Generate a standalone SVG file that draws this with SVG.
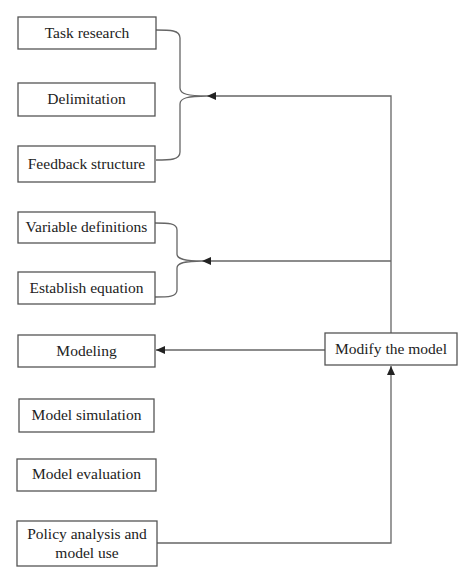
<svg xmlns="http://www.w3.org/2000/svg" width="474" height="583" viewBox="0 0 474 583">
<style>
.box{fill:#fff;stroke:#555;stroke-width:1.3}
.t{font-family:"Liberation Serif",serif;font-size:15.5px;fill:#222;text-anchor:middle}
.ln{fill:none;stroke:#666;stroke-width:1.3}
</style>
<defs>
<marker id="ah" markerWidth="10" markerHeight="8" refX="9" refY="4" orient="auto" markerUnits="userSpaceOnUse">
<path d="M0,0 L9,4 L0,8 Z" fill="#222"/>
</marker>
</defs>
<rect width="474" height="583" fill="#fff"/>
<g id="connectors">
<path class="ln" d="M156,30 C170,30 180,30 180,38 L180,88 C180,94 188,96 207,96 M156,160 C170,160 180,160 180,152 L180,104 C180,98 188,96 207,96"/>
<path class="ln" d="M155,223 C168,223 177,223 177,230 L177,254 C177,259 184,261 202,261 M155,297 C168,297 177,297 177,290 L177,268 C177,263 184,261 202,261"/>
<path class="ln" d="M391,333 L391,96 L207,96" marker-end="url(#ah)"/>
<path class="ln" d="M391,261 L202,261" marker-end="url(#ah)"/>
<path class="ln" d="M325,350 L156,350" marker-end="url(#ah)"/>
<path class="ln" d="M157,543 L391,543 L391,366" marker-end="url(#ah)"/>
</g>
<g id="task-research"><rect class="box" x="18" y="17" width="138" height="32"/><text class="t" x="87" y="38">Task research</text></g>
<g id="delimitation"><rect class="box" x="18" y="83" width="137" height="33"/><text class="t" x="86.5" y="104">Delimitation</text></g>
<g id="feedback-structure"><rect class="box" x="18" y="146" width="137" height="36"/><text class="t" x="86.5" y="169">Feedback structure</text></g>
<g id="variable-definitions"><rect class="box" x="18" y="212" width="137" height="31"/><text class="t" x="86.5" y="232">Variable definitions</text></g>
<g id="establish-equation"><rect class="box" x="18" y="272" width="137" height="32"/><text class="t" x="86.5" y="293">Establish equation</text></g>
<g id="modeling"><rect class="box" x="18" y="335" width="137" height="32"/><text class="t" x="86.5" y="356">Modeling</text></g>
<g id="model-simulation"><rect class="box" x="19" y="399" width="135" height="33"/><text class="t" x="86.5" y="420">Model simulation</text></g>
<g id="model-evaluation"><rect class="box" x="17" y="459" width="139" height="32"/><text class="t" x="86.5" y="479">Model evaluation</text></g>
<g id="policy-analysis"><rect class="box" x="17" y="521" width="140" height="45"/><text class="t" x="87" y="539">Policy analysis and</text><text class="t" x="87" y="558">model use</text></g>
<g id="modify-the-model"><rect class="box" x="325" y="333" width="132" height="32"/><text class="t" x="391" y="354">Modify the model</text></g>
</svg>
